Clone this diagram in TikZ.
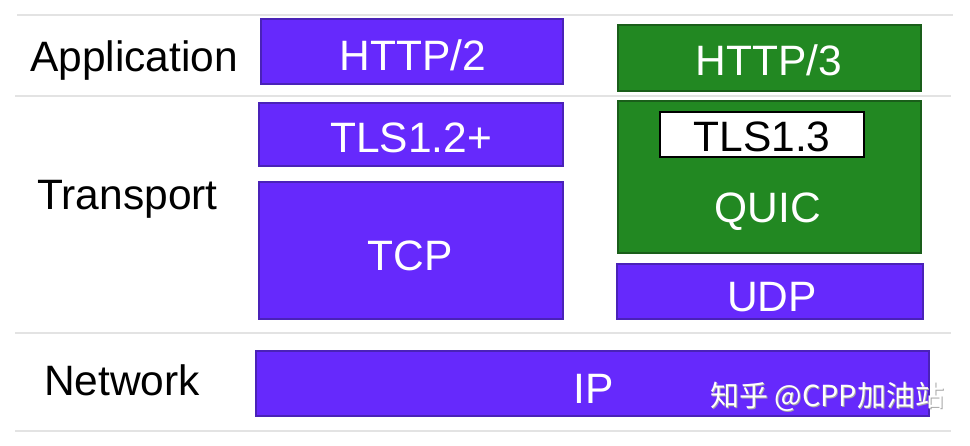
\documentclass[tikz,border=0pt]{standalone}
\usepackage{fontspec}
\setmainfont{Liberation Sans}
\newfontfamily\cjkfont{Noto Sans CJK SC}
\definecolor{purfill}{HTML}{6629FC}
\definecolor{purdraw}{HTML}{4A22B8}
\definecolor{grfill}{HTML}{228822}
\definecolor{grdraw}{HTML}{1A5E1A}
\definecolor{sepgray}{HTML}{E3E3E3}
\tikzset{
  sepline/.style={draw=sepgray, line width=2pt},
  purbox/.style={fill=purfill, draw=purdraw, line width=1.5pt},
  grbox/.style={fill=grfill, draw=grdraw, line width=1.5pt},
  whbox/.style={fill=white, draw=black, line width=2pt},
  bigtxt/.style={anchor=base, inner sep=0pt, font=\fontsize{42.5}{50}\selectfont},
  wtxt/.style={bigtxt, text=white},
  btxt/.style={bigtxt, text=black},
  wmtxt/.style={anchor=base west, inner sep=0pt, font=\cjkfont\fontsize{29}{33}\selectfont},
}
\begin{document}
\begin{tikzpicture}[x=1pt,y=-1pt]
\useasboundingbox[fill=white] (0,0) rectangle (970,445);
% separators
\coordinate (s1a) at (17,15); \coordinate (s1b) at (953,15);
\coordinate (s2a) at (15,96); \coordinate (s2b) at (951,96);
\coordinate (s3a) at (15,333); \coordinate (s3b) at (951,333);
\coordinate (s4a) at (15,431); \coordinate (s4b) at (951,431);
\draw[sepline] (s1a) -- (s1b);
\draw[sepline] (s2a) -- (s2b);
\draw[sepline] (s3a) -- (s3b);
\draw[sepline] (s4a) -- (s4b);
% row labels
\node[btxt] (lapp) at (134,71) {Application};
\node[btxt] (ltra) at (127.5,209) {Transport};
\node[btxt] (lnet) at (122,395) {Network};
% left stack
\path[purbox] (261,19) rectangle (563,84) node[midway] (http2) {};
\node[wtxt] (http2t) at (413,70) {HTTP/2};
\path[purbox] (259,103) rectangle (563,166) node[midway] (tls12) {};
\node[wtxt] (tls12t) at (411,152) {TLS1.2+};
\path[purbox] (259,182) rectangle (563,319) node[midway] (tcp) {};
\node[wtxt] (tcpt) at (410,270) {TCP};
% right stack
\path[grbox] (618,25) rectangle (921,91) node[midway] (http3) {};
\node[wtxt] (http3t) at (769,75) {HTTP/3};
\path[grbox] (618,101) rectangle (921,253) node[midway] (quic) {};
\path[whbox] (660,112) rectangle (864,157) node[midway] (tls13) {};
\node[btxt] (tls13t) at (762,151) {TLS1.3};
\node[wtxt] (quict) at (768,222) {QUIC};
\path[purbox] (617,264) rectangle (923,319) node[midway] (udp) {};
\node[wtxt] (udpt) at (772,311) {UDP};
% network
\path[purbox] (256,351) rectangle (929,416) node[midway] (ip) {};
\node[wtxt] (ipt) at (594,403) {IP};
% watermark
\node[wmtxt, text=gray!70] (wms) at (711,407) {知乎 @CPP加油站};
\node[wmtxt, text=white] (wm) at (710,406) {知乎 @CPP加油站};
\end{tikzpicture}
\end{document}
